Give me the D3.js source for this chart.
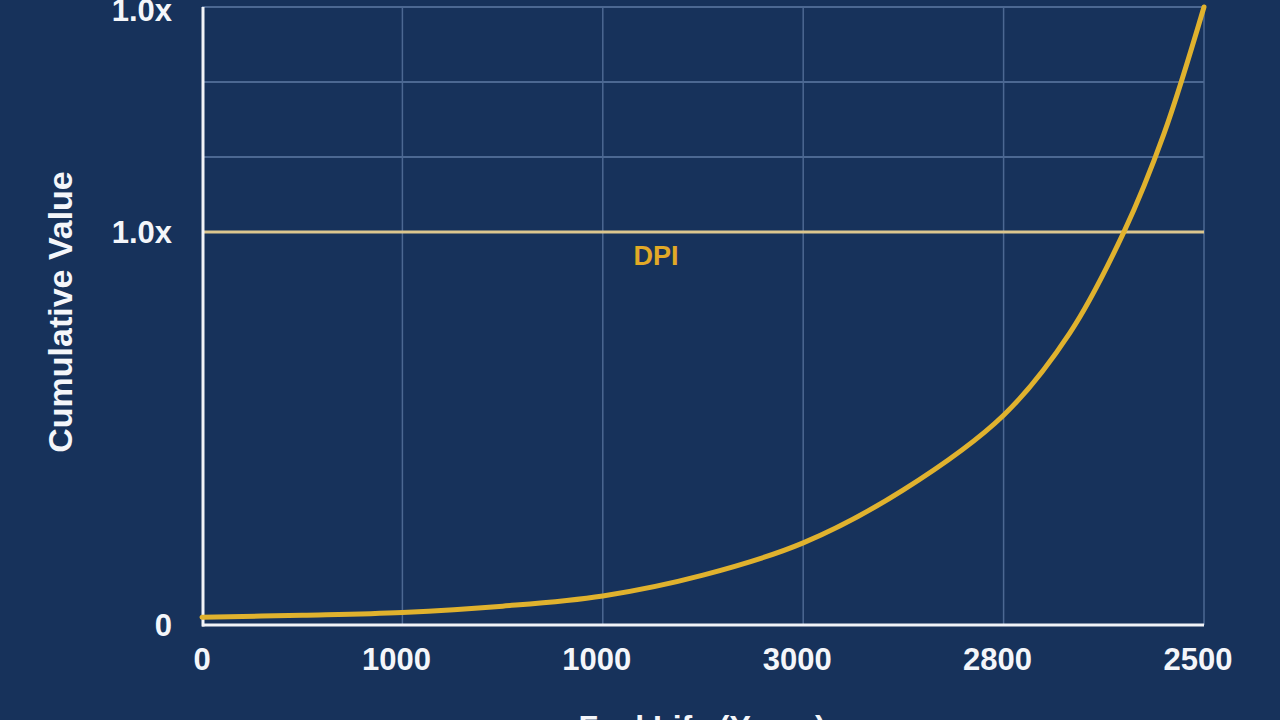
<!DOCTYPE html>
<html>
<head>
<meta charset="utf-8">
<script src="https://cdn.jsdelivr.net/npm/d3@7"></script>
<style>
  body { margin: 0; background: #17325b; overflow: hidden; }
  text { font-family: "Liberation Sans", Arial, sans-serif; }
</style>
</head>
<body>
<script>
// tick positions (index) and their printed labels
var xTicks = [0, 1, 2, 3, 4, 5],
    xLabels = ['0', '1000', '1000', '3000', '2800', '2500'];

// y ticks and labels
var yTicks = [0, 1.0, 1.573],
    yLabels = ['0', '1.0x', '1.0x'];

// horizontal grid above the DPI line
var yGrid = [1.191, 1.382, 1.573];

// DPI reference level
var dpiLevel = 1.0;

// curve
var curveX = [0, 0.5, 1, 1.5, 2, 2.5, 3, 3.5, 4, 4.33, 4.6, 4.8, 5],
    curveY = [0.020, 0.025, 0.032, 0.048, 0.074, 0.127, 0.209, 0.344, 0.534, 0.743, 1.0, 1.25, 1.573];

var width = 1280,
    height = 720,
    margin = { top: 7, right: 76, bottom: 95, left: 202 };

var xScale = d3.scaleLinear().domain([0, 5]).range([margin.left, width - margin.right]);
var yScale = d3.scaleLinear().domain([0, 1.573]).range([height - margin.bottom, margin.top]);

var svg = d3.select('body').append('svg')
    .attr('width', width)
    .attr('height', height);

svg.append('rect')
    .attr('width', width)
    .attr('height', height)
    .attr('fill', '#17325b');

// vertical grid
svg.selectAll('.vgrid')
    .data(xTicks.slice(1))
    .enter().append('line')
    .attr('class', 'vgrid')
    .attr('x1', function (d) { return xScale(d); })
    .attr('x2', function (d) { return xScale(d); })
    .attr('y1', yScale(1.573))
    .attr('y2', yScale(0))
    .attr('stroke', '#4c6892')
    .attr('stroke-width', 1.5);

// horizontal grid
svg.selectAll('.hgrid')
    .data(yGrid)
    .enter().append('line')
    .attr('class', 'hgrid')
    .attr('x1', xScale(0))
    .attr('x2', xScale(5))
    .attr('y1', function (d) { return yScale(d); })
    .attr('y2', function (d) { return yScale(d); })
    .attr('stroke', '#4c6892')
    .attr('stroke-width', 2);

// DPI line
svg.append('line')
    .attr('x1', xScale(0))
    .attr('x2', xScale(5))
    .attr('y1', yScale(dpiLevel))
    .attr('y2', yScale(dpiLevel))
    .attr('stroke', '#dcc68e')
    .attr('stroke-width', 3);

svg.append('text')
    .attr('x', 656)
    .attr('y', yScale(dpiLevel) + 33)
    .attr('text-anchor', 'middle')
    .attr('fill', '#e2a927')
    .attr('font-size', 27)
    .attr('font-weight', 'bold')
    .text('DPI');

// axes (drawn as plain lines, labels done by hand below)
svg.append('line')
    .attr('x1', xScale(0) + 1)
    .attr('x2', xScale(0) + 1)
    .attr('y1', yScale(1.573))
    .attr('y2', yScale(0) + 1.5)
    .attr('stroke', '#f2f4f8')
    .attr('stroke-width', 3);

svg.append('line')
    .attr('x1', xScale(0))
    .attr('x2', xScale(5))
    .attr('y1', yScale(0))
    .attr('y2', yScale(0))
    .attr('stroke', '#f2f4f8')
    .attr('stroke-width', 3);

// curve
var line = d3.line()
    .x(function (d, i) { return xScale(curveX[i]); })
    .y(function (d) { return yScale(d); })
    .curve(d3.curveCatmullRom.alpha(0.5));

svg.append('path')
    .datum(curveY)
    .attr('d', line)
    .attr('fill', 'none')
    .attr('stroke', '#e0b22e')
    .attr('stroke-width', 5)
    .attr('stroke-linecap', 'round');

// x tick labels
svg.selectAll('.xlab')
    .data(xTicks)
    .enter().append('text')
    .attr('class', 'xlab')
    .attr('x', function (d) { return xScale(d) - 6 + (d === 0 ? 6 : 0); })
    .attr('y', 670)
    .attr('text-anchor', 'middle')
    .attr('fill', '#f4f6fa')
    .attr('font-size', 31)
    .attr('font-weight', 'bold')
    .text(function (d, i) { return xLabels[i]; });

// y tick labels
svg.selectAll('.ylab')
    .data(yTicks)
    .enter().append('text')
    .attr('class', 'ylab')
    .attr('x', 172)
    .attr('y', function (d) { return yScale(d) + 11 + (d > 1.5 ? 3 : 0); })
    .attr('text-anchor', 'end')
    .attr('fill', '#f4f6fa')
    .attr('font-size', 31)
    .attr('font-weight', 'bold')
    .text(function (d, i) { return yLabels[i]; });

// axis titles
svg.append('text')
    .attr('transform', 'translate(72,312) rotate(-90)')
    .attr('text-anchor', 'middle')
    .attr('fill', '#f4f6fa')
    .attr('font-size', 34)
    .attr('font-weight', 'bold')
    .text('Cumulative Value');

svg.append('text')
    .attr('x', 702)
    .attr('y', 738)
    .attr('text-anchor', 'middle')
    .attr('fill', '#f4f6fa')
    .attr('font-size', 32)
    .attr('font-weight', 'bold')
    .text('Fuel Life (Years)');
</script>
</body>
</html>
